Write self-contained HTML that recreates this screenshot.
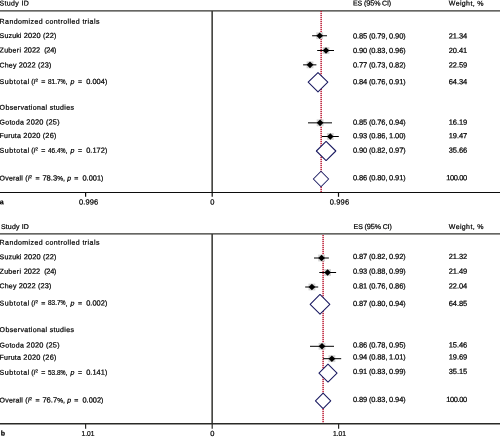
<!DOCTYPE html>
<html lang="en"><head><meta charset="utf-8"><title>Forest plot</title>
<style>
html,body{margin:0;padding:0;background:#fff;}
body{width:500px;height:440px;overflow:hidden;}
svg{display:block;}
text{font-family:"Liberation Sans",sans-serif;font-size:7.0px;fill:#000;stroke:#000;stroke-width:0.22px;}
.b{font-weight:bold;}
.n{font-size:7.4px;}
.m{font-size:7.5px;}
</style></head><body>
<svg width="500" height="440" viewBox="0 0 500 440">
<rect width="500" height="440" fill="#fff"/>
<g>
<line x1="0" x2="500" y1="10.9" y2="10.9" stroke="#33332f" stroke-width="1.4"/>
<line x1="212.15" x2="212.15" y1="10.9" y2="192.5" stroke="#33332f" stroke-width="1.5"/>
<line x1="321.15" x2="321.15" y1="11.0" y2="192.5" stroke="#be1f38" stroke-width="1.55" stroke-dasharray="1.3,0.7"/>
<line x1="0" x2="500" y1="192.5" y2="192.5" stroke="#0c0c0c" stroke-width="1.15"/>
<line x1="85.6" x2="85.6" y1="192.5" y2="196.8" stroke="#0c0c0c" stroke-width="1.2"/>
<line x1="212.2" x2="212.2" y1="192.5" y2="196.8" stroke="#0c0c0c" stroke-width="1.2"/>
<line x1="338.5" x2="338.5" y1="192.5" y2="196.8" stroke="#0c0c0c" stroke-width="1.2"/>
<rect x="316.30" y="32.35" width="6.8" height="6.8" fill="#d4d4d4"/>
<line x1="312.1" x2="327.0" y1="35.75" y2="35.75" stroke="#000" stroke-width="1.0"/>
<path d="M316.40 35.75L319.7 32.45L323.00 35.75L319.7 39.05Z" fill="#000"/>
<rect x="322.60" y="47.10" width="6.8" height="6.8" fill="#d4d4d4"/>
<line x1="317.2" x2="334.0" y1="50.5" y2="50.5" stroke="#000" stroke-width="1.0"/>
<path d="M322.70 50.5L326.0 47.20L329.30 50.5L326.0 53.80Z" fill="#000"/>
<rect x="306.60" y="61.45" width="6.8" height="6.8" fill="#d4d4d4"/>
<line x1="303.1" x2="316.4" y1="64.85" y2="64.85" stroke="#000" stroke-width="1.0"/>
<path d="M306.70 64.85L310.0 61.55L313.30 64.85L310.0 68.15Z" fill="#000"/>
<path d="M308.15 82.2L318.0 72.55L327.85 82.2L318.0 91.85Z" fill="#fff" stroke="#191960" stroke-width="1.05" stroke-linejoin="round"/>
<rect x="316.70" y="119.45" width="6.8" height="6.8" fill="#d4d4d4"/>
<line x1="308.0" x2="332.0" y1="122.85" y2="122.85" stroke="#000" stroke-width="1.0"/>
<path d="M316.80 122.85L320.1 119.55L323.40 122.85L320.1 126.15Z" fill="#000"/>
<rect x="326.90" y="133.10" width="6.8" height="6.8" fill="#d4d4d4"/>
<line x1="321.7" x2="338.8" y1="136.5" y2="136.5" stroke="#000" stroke-width="1.0"/>
<path d="M327.00 136.5L330.3 133.20L333.60 136.5L330.3 139.80Z" fill="#000"/>
<path d="M316.35 151.0L326.1 141.45L335.85 151.0L326.1 160.55Z" fill="#fff" stroke="#191960" stroke-width="1.05" stroke-linejoin="round"/>
<path d="M313.35 179.0L321.0 171.25L328.65 179.0L321.0 186.75Z" fill="#fff" stroke="#191960" stroke-width="1.05" stroke-linejoin="round"/>
<line x1="0" x2="500" y1="233.9" y2="233.9" stroke="#33332f" stroke-width="1.4"/>
<line x1="212.15" x2="212.15" y1="233.9" y2="423.75" stroke="#33332f" stroke-width="1.5"/>
<line x1="323.1" x2="323.1" y1="235.0" y2="423.75" stroke="#be1f38" stroke-width="1.55" stroke-dasharray="1.3,0.7"/>
<line x1="0" x2="500" y1="423.75" y2="423.75" stroke="#2a2a27" stroke-width="1.6"/>
<line x1="85.6" x2="85.6" y1="423.75" y2="428.65" stroke="#2a2a27" stroke-width="1.2"/>
<line x1="212.2" x2="212.2" y1="423.75" y2="428.65" stroke="#2a2a27" stroke-width="1.2"/>
<line x1="338.6" x2="338.6" y1="423.75" y2="428.65" stroke="#2a2a27" stroke-width="1.2"/>
<rect x="318.20" y="254.60" width="6.8" height="6.8" fill="#d4d4d4"/>
<line x1="314.0" x2="328.9" y1="258.0" y2="258.0" stroke="#000" stroke-width="1.0"/>
<path d="M318.30 258.0L321.6 254.70L324.90 258.0L321.6 261.30Z" fill="#000"/>
<rect x="324.20" y="269.10" width="6.8" height="6.8" fill="#d4d4d4"/>
<line x1="319.3" x2="336.1" y1="272.5" y2="272.5" stroke="#000" stroke-width="1.0"/>
<path d="M324.30 272.5L327.6 269.20L330.90 272.5L327.6 275.80Z" fill="#000"/>
<rect x="308.50" y="283.60" width="6.8" height="6.8" fill="#d4d4d4"/>
<line x1="305.2" x2="318.2" y1="287.0" y2="287.0" stroke="#000" stroke-width="1.0"/>
<path d="M308.60 287.0L311.9 283.70L315.20 287.0L311.9 290.30Z" fill="#000"/>
<path d="M310.15 304.3L320.0 294.45L329.85 304.3L320.0 314.15Z" fill="#fff" stroke="#191960" stroke-width="1.05" stroke-linejoin="round"/>
<rect x="318.60" y="342.90" width="6.8" height="6.8" fill="#d4d4d4"/>
<line x1="310.0" x2="334.0" y1="346.3" y2="346.3" stroke="#000" stroke-width="1.0"/>
<path d="M318.70 346.3L322.0 343.00L325.30 346.3L322.0 349.60Z" fill="#000"/>
<rect x="328.50" y="355.30" width="6.8" height="6.8" fill="#d4d4d4"/>
<line x1="323.1" x2="341.2" y1="358.7" y2="358.7" stroke="#000" stroke-width="1.0"/>
<path d="M328.60 358.7L331.9 355.40L335.20 358.7L331.9 362.00Z" fill="#000"/>
<path d="M318.95 373.1L328.0 364.15L337.05 373.1L328.0 382.05Z" fill="#fff" stroke="#191960" stroke-width="1.05" stroke-linejoin="round"/>
<path d="M315.45 400.8L323.1 393.05L330.75 400.8L323.1 408.55Z" fill="#fff" stroke="#191960" stroke-width="1.05" stroke-linejoin="round"/>
</g>
<g transform="matrix(1 0.0005 0 1 0 0)">
<text x="-0.40" y="5.60" textLength="29.2">Study ID</text>
<text x="353.00" y="5.42" textLength="38.2">ES (<tspan class="n">95</tspan>% CI)</text>
<text x="448.80" y="5.38" textLength="34.8">Weight, %</text>
<text x="79.00" y="204.46" textLength="19.3"><tspan class="m">0.996</tspan></text>
<text x="210.30" y="204.39" textLength="4.6"><tspan class="m">0</tspan></text>
<text x="329.70" y="204.34" textLength="19.4"><tspan class="m">0.996</tspan></text>
<text class="b" x="-0.3" y="204.3" font-size="7.2">a</text>
<text x="-0.40" y="23.70" textLength="99.8">Randomized controlled trials</text>
<text x="-0.40" y="38.10" textLength="56.8">Suzuki <tspan class="n">2020</tspan> (<tspan class="n">22</tspan>)</text>
<text x="353.00" y="38.22" textLength="52.6"><tspan class="m">0.85</tspan> (<tspan class="m">0.79</tspan>, <tspan class="m">0.90</tspan>)</text>
<text x="448.80" y="38.18" textLength="18.4"><tspan class="m">21.34</tspan></text>
<text x="-0.40" y="52.60" textLength="21.4">Zuberi</text><text x="23.70" y="52.59" textLength="16.5"><tspan class="n">2022</tspan></text><text x="44.30" y="52.58" textLength="12.0">(<tspan class="n">24</tspan>)</text>
<text x="353.00" y="52.92" textLength="52.6"><tspan class="m">0.90</tspan> (<tspan class="m">0.83</tspan>, <tspan class="m">0.96</tspan>)</text>
<text x="448.80" y="52.88" textLength="18.4"><tspan class="m">20.41</tspan></text>
<text x="-0.40" y="67.40" textLength="51.8">Chey <tspan class="n">2022</tspan> (<tspan class="n">23</tspan>)</text>
<text x="353.00" y="67.32" textLength="52.6"><tspan class="m">0.77</tspan> (<tspan class="m">0.73</tspan>, <tspan class="m">0.82</tspan>)</text>
<text x="448.80" y="67.28" textLength="18.4"><tspan class="m">22.59</tspan></text>
<text x="-0.40" y="84.00" textLength="29.8">Subtotal</text><text x="31.20" y="83.98">(<tspan font-style="italic">I</tspan><tspan font-size="4.4" dy="-2.3">2</tspan></text><text x="41.30" y="83.98">=</text><text x="48.00" y="83.98" textLength="19.3" lengthAdjust="spacingAndGlyphs"><tspan class="n">81.7</tspan><tspan font-size="6.4">%</tspan>,</text><text x="70.60" y="83.96"><tspan font-style="italic">p</tspan></text><text x="77.90" y="83.96">=</text><text x="86.20" y="83.96" textLength="21.1"><tspan class="n">0.004</tspan>)</text>
<text x="353.00" y="84.02" textLength="52.6"><tspan class="m">0.84</tspan> (<tspan class="m">0.76</tspan>, <tspan class="m">0.91</tspan>)</text>
<text x="448.80" y="83.98" textLength="18.4"><tspan class="m">64.34</tspan></text>
<text x="-0.40" y="109.80" textLength="74.4">Observational studies</text>
<text x="-0.40" y="124.60" textLength="60.0">Gotoda <tspan class="n">2020</tspan> (<tspan class="n">25</tspan>)</text>
<text x="353.00" y="124.62" textLength="52.6"><tspan class="m">0.85</tspan> (<tspan class="m">0.76</tspan>, <tspan class="m">0.94</tspan>)</text>
<text x="448.80" y="124.58" textLength="18.4"><tspan class="m">16.19</tspan></text>
<text x="-0.40" y="138.00" textLength="56.8">Furuta <tspan class="n">2020</tspan> (<tspan class="n">26</tspan>)</text>
<text x="353.00" y="138.02" textLength="52.6"><tspan class="m">0.93</tspan> (<tspan class="m">0.86</tspan>, <tspan class="m">1.00</tspan>)</text>
<text x="448.80" y="137.98" textLength="18.4"><tspan class="m">19.47</tspan></text>
<text x="-0.40" y="152.80" textLength="29.8">Subtotal</text><text x="31.20" y="152.78">(<tspan font-style="italic">I</tspan><tspan font-size="4.4" dy="-2.3">2</tspan></text><text x="41.30" y="152.78">=</text><text x="48.00" y="152.78" textLength="19.3" lengthAdjust="spacingAndGlyphs"><tspan class="n">46.4</tspan><tspan font-size="6.4">%</tspan>,</text><text x="70.60" y="152.76"><tspan font-style="italic">p</tspan></text><text x="77.90" y="152.76">=</text><text x="86.20" y="152.76" textLength="21.1"><tspan class="n">0.172</tspan>)</text>
<text x="353.00" y="152.62" textLength="52.6"><tspan class="m">0.90</tspan> (<tspan class="m">0.82</tspan>, <tspan class="m">0.97</tspan>)</text>
<text x="448.80" y="152.58" textLength="18.4"><tspan class="m">35.66</tspan></text>
<text x="-0.40" y="180.60" textLength="23.3">Overall</text><text x="25.30" y="180.59">(<tspan font-style="italic">I</tspan><tspan font-size="4.4" dy="-2.3">2</tspan></text><text x="35.50" y="180.58">=</text><text x="42.40" y="180.58" textLength="22.6" lengthAdjust="spacingAndGlyphs"><tspan class="n">78.3</tspan><tspan font-size="6.4">%</tspan>,</text><text x="67.30" y="180.57"><tspan font-style="italic">p</tspan></text><text x="74.30" y="180.56">=</text><text x="82.50" y="180.56" textLength="20.9"><tspan class="n">0.001</tspan>)</text>
<text x="353.00" y="180.12" textLength="52.6"><tspan class="m">0.86</tspan> (<tspan class="m">0.80</tspan>, <tspan class="m">0.91</tspan>)</text>
<text x="446.30" y="180.08" textLength="20.9"><tspan class="m">100.00</tspan></text>
<text x="1.00" y="228.90" textLength="27.8">Study ID</text>
<text x="353.60" y="228.72" textLength="38.2">ES (<tspan class="n">95</tspan>% CI)</text>
<text x="448.80" y="228.68" textLength="34.8">Weight, %</text>
<text x="81.60" y="436.06" textLength="12.9" lengthAdjust="spacingAndGlyphs"><tspan class="m">1.01</tspan></text>
<text x="210.30" y="435.99" textLength="4.6"><tspan class="m">0</tspan></text>
<text x="332.90" y="435.93" textLength="13.1" lengthAdjust="spacingAndGlyphs"><tspan class="m">1.01</tspan></text>
<text class="b" x="0.8" y="435.6" font-size="7.2">b</text>
<text x="-0.40" y="244.80" textLength="99.8">Randomized controlled trials</text>
<text x="-0.40" y="259.20" textLength="56.8">Suzuki <tspan class="n">2020</tspan> (<tspan class="n">22</tspan>)</text>
<text x="353.00" y="258.92" textLength="52.6"><tspan class="m">0.87</tspan> (<tspan class="m">0.82</tspan>, <tspan class="m">0.92</tspan>)</text>
<text x="448.80" y="258.88" textLength="18.4"><tspan class="m">21.32</tspan></text>
<text x="-0.40" y="273.80" textLength="21.4">Zuberi</text><text x="23.70" y="273.79" textLength="16.5"><tspan class="n">2022</tspan></text><text x="44.30" y="273.78" textLength="12.0">(<tspan class="n">24</tspan>)</text>
<text x="353.00" y="273.62" textLength="52.6"><tspan class="m">0.93</tspan> (<tspan class="m">0.88</tspan>, <tspan class="m">0.99</tspan>)</text>
<text x="448.80" y="273.58" textLength="18.4"><tspan class="m">21.49</tspan></text>
<text x="-0.40" y="288.20" textLength="51.8">Chey <tspan class="n">2022</tspan> (<tspan class="n">23</tspan>)</text>
<text x="353.00" y="288.22" textLength="52.6"><tspan class="m">0.81</tspan> (<tspan class="m">0.76</tspan>, <tspan class="m">0.86</tspan>)</text>
<text x="448.80" y="288.18" textLength="18.4"><tspan class="m">22.04</tspan></text>
<text x="-0.40" y="305.50" textLength="29.8">Subtotal</text><text x="31.20" y="305.48">(<tspan font-style="italic">I</tspan><tspan font-size="4.4" dy="-2.3">2</tspan></text><text x="41.30" y="305.48">=</text><text x="48.00" y="305.48" textLength="19.3" lengthAdjust="spacingAndGlyphs"><tspan class="n">83.7</tspan><tspan font-size="6.4">%</tspan>,</text><text x="70.60" y="305.46"><tspan font-style="italic">p</tspan></text><text x="77.90" y="305.46">=</text><text x="86.20" y="305.46" textLength="21.1"><tspan class="n">0.002</tspan>)</text>
<text x="353.00" y="305.72" textLength="52.6"><tspan class="m">0.87</tspan> (<tspan class="m">0.80</tspan>, <tspan class="m">0.94</tspan>)</text>
<text x="448.80" y="305.68" textLength="18.4"><tspan class="m">64.85</tspan></text>
<text x="-0.40" y="332.00" textLength="74.4">Observational studies</text>
<text x="-0.40" y="347.50" textLength="60.0">Gotoda <tspan class="n">2020</tspan> (<tspan class="n">25</tspan>)</text>
<text x="353.00" y="347.22" textLength="52.6"><tspan class="m">0.86</tspan> (<tspan class="m">0.78</tspan>, <tspan class="m">0.95</tspan>)</text>
<text x="448.80" y="347.18" textLength="18.4"><tspan class="m">15.46</tspan></text>
<text x="-0.40" y="359.80" textLength="56.8">Furuta <tspan class="n">2020</tspan> (<tspan class="n">26</tspan>)</text>
<text x="353.00" y="359.42" textLength="52.6"><tspan class="m">0.94</tspan> (<tspan class="m">0.88</tspan>, <tspan class="m">1.01</tspan>)</text>
<text x="448.80" y="359.38" textLength="18.4"><tspan class="m">19.69</tspan></text>
<text x="-0.40" y="374.80" textLength="29.8">Subtotal</text><text x="31.20" y="374.78">(<tspan font-style="italic">I</tspan><tspan font-size="4.4" dy="-2.3">2</tspan></text><text x="41.30" y="374.78">=</text><text x="48.00" y="374.78" textLength="19.3" lengthAdjust="spacingAndGlyphs"><tspan class="n">53.8</tspan><tspan font-size="6.4">%</tspan>,</text><text x="70.60" y="374.76"><tspan font-style="italic">p</tspan></text><text x="77.90" y="374.76">=</text><text x="86.20" y="374.76" textLength="21.1"><tspan class="n">0.141</tspan>)</text>
<text x="353.00" y="373.72" textLength="52.6"><tspan class="m">0.91</tspan> (<tspan class="m">0.83</tspan>, <tspan class="m">0.99</tspan>)</text>
<text x="448.80" y="373.68" textLength="18.4"><tspan class="m">35.15</tspan></text>
<text x="-0.40" y="402.50" textLength="23.3">Overall</text><text x="25.30" y="402.49">(<tspan font-style="italic">I</tspan><tspan font-size="4.4" dy="-2.3">2</tspan></text><text x="35.50" y="402.48">=</text><text x="42.40" y="402.48" textLength="22.6" lengthAdjust="spacingAndGlyphs"><tspan class="n">76.7</tspan><tspan font-size="6.4">%</tspan>,</text><text x="67.30" y="402.47"><tspan font-style="italic">p</tspan></text><text x="74.30" y="402.46">=</text><text x="82.50" y="402.46" textLength="20.9"><tspan class="n">0.002</tspan>)</text>
<text x="353.00" y="401.82" textLength="52.6"><tspan class="m">0.89</tspan> (<tspan class="m">0.83</tspan>, <tspan class="m">0.94</tspan>)</text>
<text x="446.30" y="401.78" textLength="20.9"><tspan class="m">100.00</tspan></text>
</g>
</svg></body></html>
